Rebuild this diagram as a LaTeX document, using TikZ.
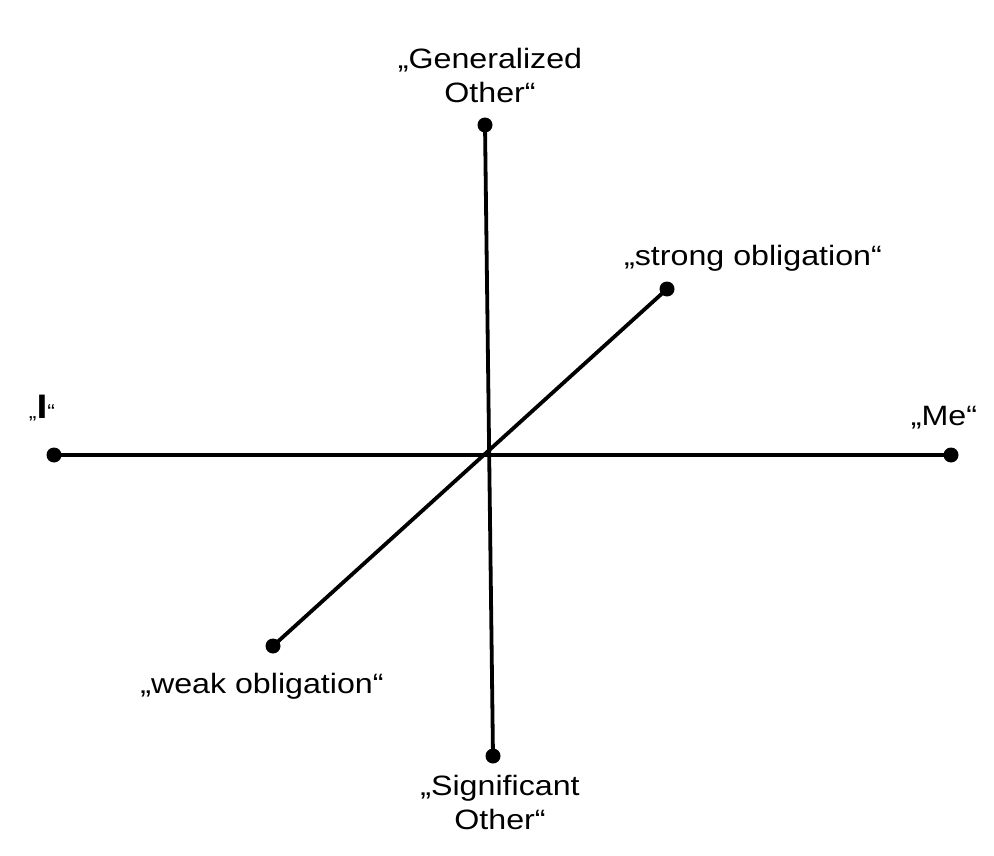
\documentclass[tikz,border=0pt]{standalone}
\usepackage{fontspec}
\setmainfont{Liberation Sans}
\newfontfamily\lblfont[FakeStretch=1.15]{Liberation Sans}
\begin{document}
\begin{tikzpicture}[x=1pt,y=-1pt,
  axis/.style={line width=3.8pt},
  enddot/.style={circle,fill=black,minimum size=15pt,inner sep=0pt},
  lbl/.style={font=\lblfont\fontsize{28}{34}\selectfont,inner sep=0pt,align=center}]
\useasboundingbox (0,0) rectangle (994,856);
\fill[white] (0,0) rectangle (994,856);
% end points
\node[enddot] (i)  at (54,455) {};
\node[enddot] (me) at (951,455) {};
\node[enddot] (go) at (485,125) {};
\node[enddot] (so) at (493,756) {};
\node[enddot] (st) at (667,289) {};
\node[enddot] (wk) at (273,646) {};
% axes
\draw[axis] (i.center) -- (me.center);
\draw[axis] (go.center) -- (so.center);
\draw[axis] (wk.center) -- (st.center);
% labels
\node[lbl,anchor=base] (lgo) at (490,103) {„Generalized\\Other“};
\node[lbl,anchor=base] (lst) at (753,265) {„strong obligation“};
\node[lbl,anchor=base] (li) at (42,418) {{\fontsize{20}{20}\selectfont„}{\bfseries\fontsize{34}{34}\selectfont I}{\fontsize{20}{20}\selectfont“}};
\node[lbl,anchor=base] (lme) at (944,425) {„Me“};
\node[lbl,anchor=base] (lwk) at (262,693) {„weak obligation“};
\node[lbl,anchor=base] (lso) at (500,829) {„Significant\\Other“};
\end{tikzpicture}
\end{document}
